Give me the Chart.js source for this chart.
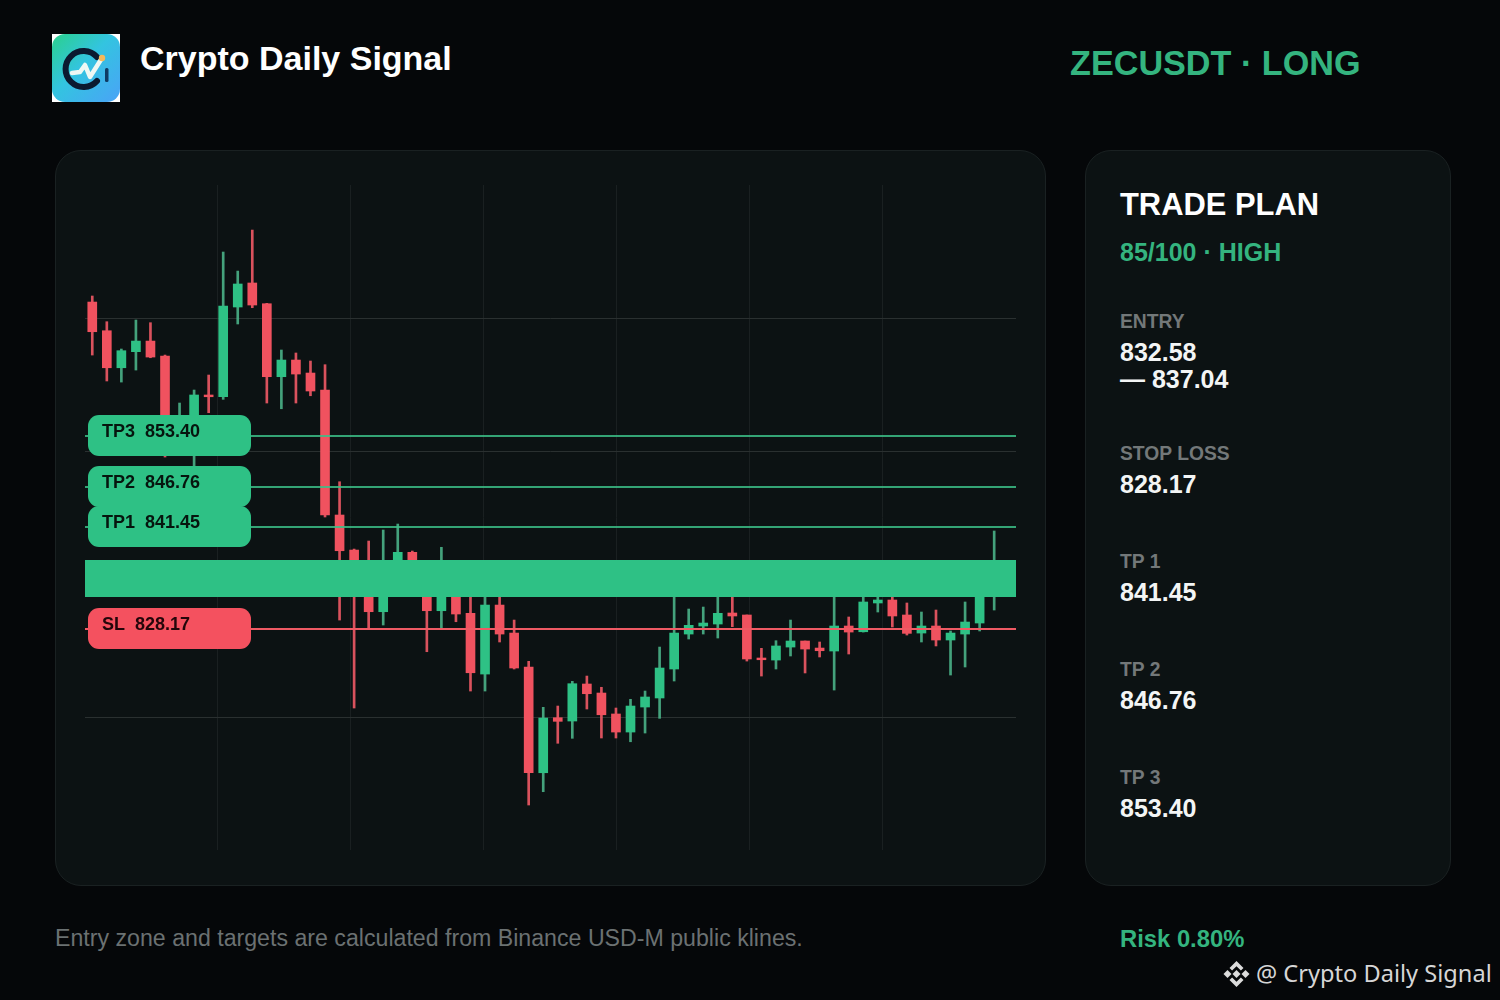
<!DOCTYPE html>
<html>
<head>
<meta charset="utf-8">
<title>ZECUSDT LONG</title>
<script src="https://cdn.jsdelivr.net/npm/chart.js@4/dist/chart.umd.min.js"></script>
<style>
html,body{margin:0;padding:0;background:#050709;}
#page{position:relative;width:1500px;height:1000px;overflow:hidden;background:#050709;font-family:"Liberation Sans",Arial,sans-serif;}
#page span,.panel{position:absolute;}
#page span{line-height:1;white-space:nowrap;}
.panel{background:#0c1213;border:1px solid #1a2122;border-radius:26px;box-sizing:border-box;}
.b{font-weight:700;}
.lab{font-weight:700;font-size:19.3px;color:#737879;left:1120px;}
.val{font-weight:700;font-size:25px;color:#f3f5f5;left:1120px;}
.grn{color:#34b47f;}
#chart{position:absolute;left:85px;top:185px;}
</style>
</head>
<body>
<div id="page">
  <svg style="position:absolute;left:52px;top:34px" width="68" height="68" viewBox="0 0 68 68">
    <defs><linearGradient id="lg" x1="0" y1="0" x2="1" y2="1"><stop offset="0" stop-color="#2ad18c"/><stop offset=".45" stop-color="#33c4e0"/><stop offset="1" stop-color="#4aa3f7"/></linearGradient></defs>
    <rect width="68" height="68" fill="#fff"/>
    <rect width="68" height="68" rx="13" fill="url(#lg)"/>
    <path d="M45 23 A18 18 0 1 0 45 47" fill="none" stroke="#0b1a30" stroke-width="6" stroke-linecap="round"/>
    <polyline points="20,39 28,38 33,31 38,43 50,24" fill="none" stroke="#eef8f4" stroke-width="4.5" stroke-linejoin="round" stroke-linecap="round"/>
    <circle cx="50" cy="24" r="3.2" fill="#f5b95a"/>
    <rect x="53" y="34" width="3.5" height="14" rx="1.5" fill="#0f3a63"/>
  </svg>
  <span class="b" style="left:140px;top:41px;font-size:34px;color:#fff">Crypto Daily Signal</span>
  <span class="b grn" style="left:1070px;top:46px;font-size:34.2px">ZECUSDT · LONG</span>

  <div class="panel" style="left:55px;top:150px;width:991px;height:736px"></div>
  <div class="panel" style="left:1085px;top:150px;width:366px;height:736px"></div>
  <canvas id="chart" width="931" height="665"></canvas>

  <span class="b" style="left:1120px;top:190px;font-size:30.9px;color:#fff">TRADE PLAN</span>
  <span class="b grn" style="left:1120px;top:240px;font-size:25px">85/100 · HIGH</span>
  <span class="lab" style="top:312px">ENTRY</span>
  <span class="val" style="top:340px">832.58</span>
  <span class="val" style="top:367px">— 837.04</span>
  <span class="lab" style="top:444px">STOP LOSS</span>
  <span class="val" style="top:472px">828.17</span>
  <span class="lab" style="top:552px">TP 1</span>
  <span class="val" style="top:580px">841.45</span>
  <span class="lab" style="top:660px">TP 2</span>
  <span class="val" style="top:688px">846.76</span>
  <span class="lab" style="top:768px">TP 3</span>
  <span class="val" style="top:796px">853.40</span>

  <span style="left:55px;top:927px;font-size:23.16px;color:#6b7172">Entry zone and targets are calculated from Binance USD-M public klines.</span>
  <span class="b grn" style="left:1120px;top:927px;font-size:23.8px">Risk 0.80%</span>

  <svg style="position:absolute;left:1222px;top:960px" width="29" height="28" viewBox="0 0 28 28" fill="#dcdcdc">
    <path d="M14 10l4 4-4 4-4-4zM5 10l4 4-4 4-4-4zM23 10l4 4-4 4-4-4z"/>
    <path d="M14 1l7 7-2.6 2.6L14 6.2l-4.4 4.4L7 8zM14 27l7-7-2.6-2.6L14 21.8l-4.4-4.4L7 20z"/>
  </svg>
  <span style="left:1256px;top:962px;font-size:23.6px;color:#d6d6d6;font-family:'Noto Sans',sans-serif">@ Crypto Daily Signal</span>
</div>

<script>
const opens=[870.91,867.16,862.32,864.42,865.81,863.85,852.87,854.83,858.76,858.53,870.26,873.40,870.69,861.15,863.33,861.63,859.41,843.07,838.49,835.23,830.43,833.92,838.19,833.92,830.56,833.27,830.22,822.28,831.30,827.64,823.20,809.38,816.57,816.14,820.98,819.80,817.06,814.70,817.97,819.15,822.94,827.51,828.56,828.82,830.26,830.00,824.38,824.11,825.81,826.60,825.68,825.29,828.56,827.81,831.57,831.96,830.00,827.64,828.56,826.73,827.51,828.95,833.53];
const highs=[871.70,868.34,864.77,868.56,868.21,863.98,857.71,859.41,861.37,877.45,874.96,880.32,870.74,864.64,864.25,863.20,862.72,847.42,838.62,839.67,841.11,841.89,838.36,835.23,838.85,835.88,833.92,833.92,833.92,829.34,823.94,817.93,818.10,821.33,822.02,820.55,817.84,818.98,820.06,825.81,833.92,830.78,831.04,833.92,833.92,830.00,825.64,826.64,829.34,826.60,826.47,833.92,829.74,832.61,833.27,833.27,831.57,830.39,830.65,827.91,831.70,834.57,840.98];
const lows=[863.98,860.59,860.45,862.02,863.63,850.65,851.57,848.95,856.44,858.19,868.04,870.17,857.71,856.96,857.71,858.66,842.81,829.34,817.84,828.26,828.69,833.00,832.74,825.20,828.26,829.12,820.06,820.06,826.47,822.94,805.16,806.90,813.23,813.88,817.71,813.92,813.92,813.43,814.57,816.49,821.37,826.86,827.51,826.99,828.47,823.98,822.02,822.94,824.64,822.42,824.51,820.19,824.90,827.77,830.39,828.43,827.38,826.47,825.95,822.15,823.20,827.91,830.65];
const closes=[867.03,862.32,864.55,865.81,863.72,852.87,854.83,858.76,858.53,870.39,873.27,870.52,861.15,863.33,861.50,859.28,843.07,838.40,833.27,830.43,835.23,838.19,833.92,830.56,834.83,830.13,822.45,831.30,827.51,823.07,809.38,816.53,816.10,821.02,819.71,816.96,814.70,818.10,819.28,823.07,827.64,828.65,828.95,830.22,829.87,824.25,824.15,825.95,826.60,825.55,825.33,828.56,827.77,831.70,831.96,829.87,827.60,828.56,826.73,827.64,829.08,833.92,835.88];
const slots=64; // one more slot than candles, the last one stays empty

const entryLow=832.58, entryHigh=837.04;
const tpNames=['TP3','TP2','TP1'];
const tpValues=[853.40,846.76,841.45];
const slName='SL', slValue=828.17;
const yMin=799.28, yMax=886.21;
const gridPrices=[868.80,851.41,834.03,816.64];
const gridTimes=[0.995,1.995,2.995,3.995,4.995,5.995];

const GREEN='#2ec185', RED='#f0525f', LINE_GREEN='rgba(60,190,135,.85)', LINE_RED='#ef5a64';
const WICK_GREEN='rgba(74,178,136,.9)', WICK_RED='rgba(236,88,100,.92)';

const labels=Array.from({length:slots},(_,i)=>i);
const isUp=i=>closes[i]>=opens[i];
const colors=labels.map(i=>i<opens.length&&isUp(i)?GREEN:RED);
const wickColors=labels.map(i=>i<opens.length&&isUp(i)?WICK_GREEN:WICK_RED);
const wicks=labels.map(i=>i<opens.length?[lows[i],highs[i]]:null);
const bodies=labels.map(i=>i<opens.length?[opens[i],closes[i]]:null);

// zone, level lines and price tags sit on top of the candles
const overlay={
  id:'overlay',
  afterDatasetsDraw(chart){
    const c=chart.ctx, y=chart.scales.y, a=chart.chartArea;
    c.save();
    const top=Math.floor(y.getPixelForValue(entryHigh)-1), bot=Math.ceil(y.getPixelForValue(entryLow)+1);
    c.fillStyle=GREEN;
    c.fillRect(a.left,top,a.right-a.left,bot-top);
    const tags=tpNames.map((n,i)=>({n,v:tpValues[i],bg:GREEN,line:LINE_GREEN,fg:'#06150e'}));
    tags.push({n:slName,v:slValue,bg:'#f4515f',line:LINE_RED,fg:'#24060a'});
    tags.forEach(t=>{
      const py=Math.round(y.getPixelForValue(t.v));
      c.fillStyle=t.line;
      c.fillRect(a.left,py-1,a.right-a.left,2);
    });
    c.font='bold 18px "Liberation Sans", Arial, sans-serif';
    c.textBaseline='middle';
    tags.forEach(t=>{
      const py=Math.round(y.getPixelForValue(t.v));
      c.fillStyle=t.bg;
      c.beginPath();c.roundRect(a.left+3,py-21,163,41,11);c.fill();
      c.fillStyle=t.fg;
      c.fillText(t.n+'  '+t.v.toFixed(2),a.left+17,py-4);
    });
    c.restore();
  }
};

new Chart(document.getElementById('chart'),{
  type:'bar',
  data:{labels,datasets:[
    {data:wicks,backgroundColor:wickColors,barThickness:2,order:2,grouped:false},
    {data:bodies,backgroundColor:colors,barThickness:9,order:1,grouped:false}
  ]},
  options:{
    responsive:false,animation:false,
    layout:{padding:0},
    plugins:{legend:{display:false},tooltip:{enabled:false}},
    scales:{
      x:{offset:true,grid:{display:false,drawTicks:false},border:{display:false},ticks:{display:false}},
      v:{axis:'x',type:'linear',position:'bottom',min:0,max:7,offset:false,
        afterBuildTicks:s=>{s.ticks=gridTimes.map(value=>({value}));},
        ticks:{display:false},border:{display:false},
        grid:{offset:false,drawTicks:false,color:'#1a2021'}},
      y:{min:yMin,max:yMax,
        afterBuildTicks:s=>{s.ticks=gridPrices.map(value=>({value}));},
        ticks:{display:false},border:{display:false},
        grid:{drawTicks:false,color:'#2a3030'}}
    }
  },
  plugins:[overlay]
});
</script>
</body>
</html>
